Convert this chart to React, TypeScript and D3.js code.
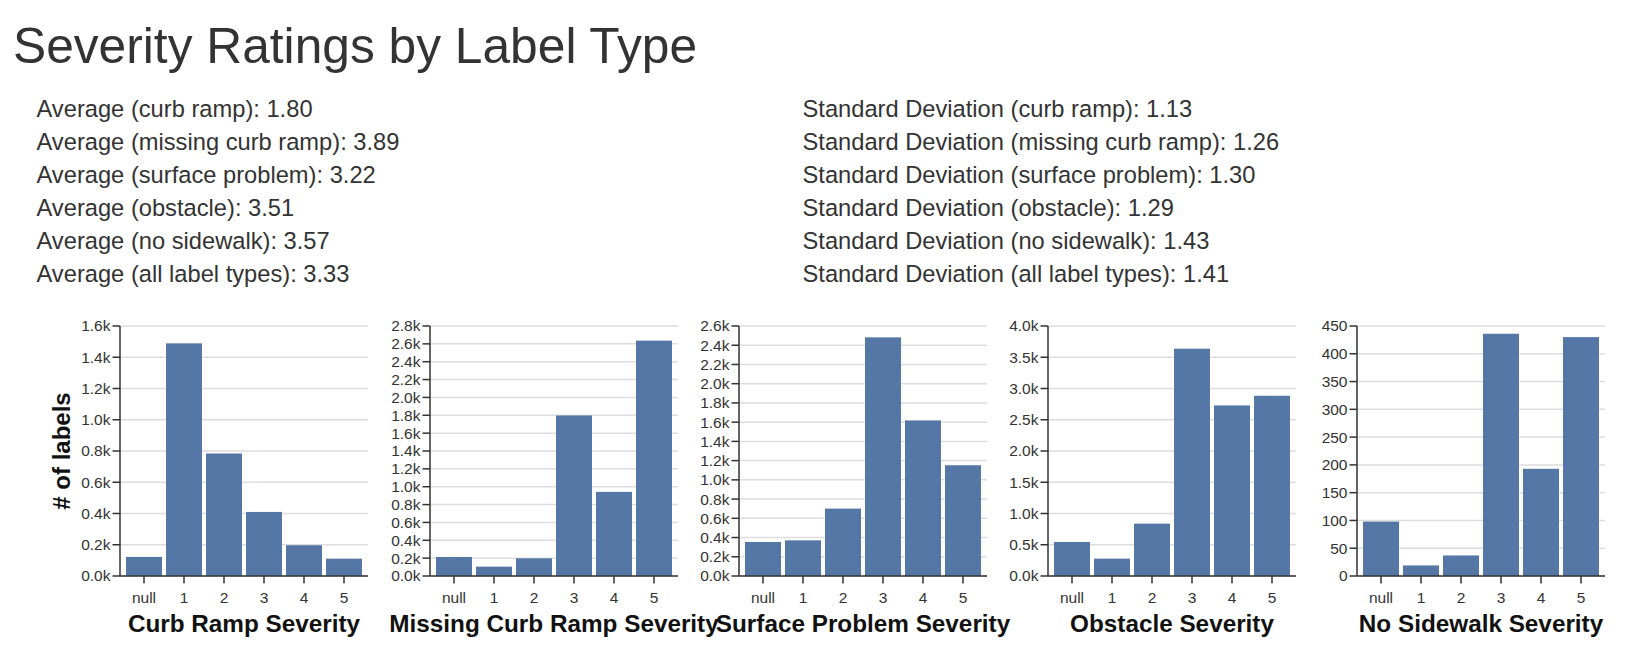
import * as d3 from "d3";

// severity categories shared by every panel
const categories = ["null", "1", "2", "3", "4", "5"];

// label counts per severity
const curbRampCounts = [122, 1489, 784, 410, 197, 111];
const missingCurbRampCounts = [213, 105, 198, 1798, 942, 2636];
const surfaceProblemCounts = [354, 371, 701, 2482, 1618, 1152];
const obstacleCounts = [545, 278, 838, 3637, 2729, 2884];
const noSidewalkCounts = [98, 19, 37, 436, 193, 430];

const panelTitles = [
  "Curb Ramp Severity",
  "Missing Curb Ramp Severity",
  "Surface Problem Severity",
  "Obstacle Severity",
  "No Sidewalk Severity",
];
const panelCounts = [curbRampCounts, missingCurbRampCounts, surfaceProblemCounts, obstacleCounts, noSidewalkCounts];
const yMax = [1600, 2800, 2600, 4000, 450];
const yTickStep = [200, 200, 200, 500, 50];
const yInThousands = [true, true, true, true, false];

// summary stats
const labelTypes = ["curb ramp", "missing curb ramp", "surface problem", "obstacle", "no sidewalk", "all label types"];
const averages = ["1.80", "3.89", "3.22", "3.51", "3.57", "3.33"];
const stdDevs = ["1.13", "1.26", "1.30", "1.29", "1.43", "1.41"];

const W = 1634;
const H = 670;
const FONT = "'Liberation Sans', Arial, Helvetica, sans-serif";
const TEXT = "#333";
const BAR = "#5577a5";

const plotTop = 326;
const plotH = 250;
const plotW = 248;
const panelX = [120, 430, 739, 1048, 1357];

function Panel({ i }: { i: number }) {
  const counts = panelCounts[i];
  const x = d3.scaleBand<string>().domain(categories).range([0, plotW]).paddingInner(0.1).paddingOuter(0.15);
  const y = d3.scaleLinear().domain([0, yMax[i]]).range([plotH, 0]);
  const ticks = d3.range(0, yMax[i] + 1, yTickStep[i]);
  const fmt = yInThousands[i] ? d3.formatPrefix(".1", 1e3) : d3.format("d");

  return (
    <g transform={`translate(${panelX[i]},${plotTop})`}>
      {/* grid */}
      {ticks.map((t) => (
        <line key={"g" + t} x1={0} x2={plotW} y1={y(t)} y2={y(t)} stroke="#ddd" strokeWidth={1.5} />
      ))}
      {/* bars */}
      {categories.map((c, j) => (
        <rect
          key={c}
          x={x(c)}
          y={y(counts[j])}
          width={x.bandwidth()}
          height={plotH - y(counts[j])}
          fill={BAR}
        />
      ))}
      {/* y axis */}
      <line x1={0} x2={0} y1={0} y2={plotH} stroke="#333" strokeWidth={1.5} />
      {ticks.map((t) => (
        <g key={"t" + t} transform={`translate(0,${y(t)})`}>
          <line x1={-7.5} x2={0} stroke="#333" strokeWidth={1.5} />
          <text x={-9.5} dy="0.35em" textAnchor="end" fontSize={15.5} fill={TEXT} fontFamily={FONT}>
            {fmt(t)}
          </text>
        </g>
      ))}
      {/* x axis */}
      <line x1={0} x2={plotW} y1={plotH} y2={plotH} stroke="#333" strokeWidth={1.5} />
      {categories.map((c) => {
        const cx = (x(c) ?? 0) + x.bandwidth() / 2;
        return (
          <g key={"x" + c} transform={`translate(${cx},${plotH})`}>
            <line y1={0} y2={7.5} stroke="#333" strokeWidth={1.5} />
            <text y={27} textAnchor="middle" fontSize={15.5} fill={TEXT} fontFamily={FONT}>
              {c}
            </text>
          </g>
        );
      })}
      <text
        x={plotW / 2}
        y={plotH + 56}
        textAnchor="middle"
        fontSize={24.3}
        fontWeight="bold"
        fill="#111"
        fontFamily={FONT}
      >
        {panelTitles[i]}
      </text>
      {i === 0 && (
        <text
          transform={`translate(-50,${plotH / 2}) rotate(-90)`}
          textAnchor="middle"
          fontSize={24}
          fontWeight="bold"
          fill="#111"
          fontFamily={FONT}
        >
          # of labels
        </text>
      )}
    </g>
  );
}

export default function App() {
  return (
    <svg
      width={W}
      height={H}
      style={{ position: "absolute", left: 0, top: 0, background: "#fff" }}
    >
      <text x={13} y={63} fontSize={49.7} fill={TEXT} fontFamily={FONT}>
        Severity Ratings by Label Type
      </text>
      {labelTypes.map((t, k) => (
        <text key={"a" + k} x={36.5} y={116.5 + k * 33} fontSize={23.7} fill={TEXT} fontFamily={FONT}>
          {`Average (${t}): ${averages[k]}`}
        </text>
      ))}
      {labelTypes.map((t, k) => (
        <text key={"s" + k} x={802.5} y={116.5 + k * 33} fontSize={23.7} fill={TEXT} fontFamily={FONT}>
          {`Standard Deviation (${t}): ${stdDevs[k]}`}
        </text>
      ))}
      {panelTitles.map((_, i) => (
        <Panel key={i} i={i} />
      ))}
    </svg>
  );
}
